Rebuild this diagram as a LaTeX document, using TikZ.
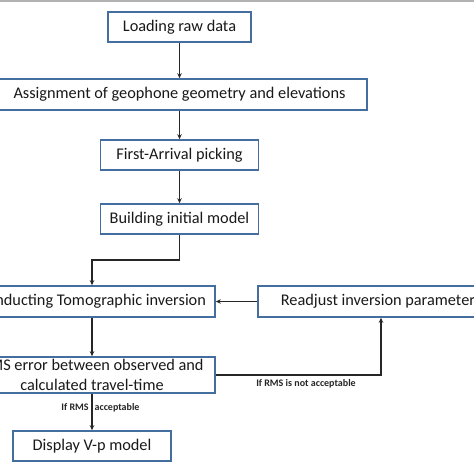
\documentclass[tikz,border=0pt]{standalone}
\usepackage{fontspec}
\setmainfont{Carlito}
\usetikzlibrary{arrows.meta}
\definecolor{boxblue}{RGB}{68,110,160}
\definecolor{topgray}{RGB}{178,178,178}
\tikzset{
  stepbox/.style={draw=boxblue, line width=1.6bp, fill=white, rectangle, inner sep=0pt,
    font=\fontsize{16.3bp}{19.5bp}\selectfont, text=black!90, align=center},
  conn/.style={draw=black!85, line width=1.2bp, -{Stealth[length=5bp,width=4.5bp]}},
  lbl/.style={font=\fontsize{10bp}{12bp}\selectfont\bfseries, text=black!85, inner sep=0pt}
}
\begin{document}
\begin{tikzpicture}[x=1bp,y=-1bp]
\useasboundingbox (0,0) rectangle (474,474);
\clip (0,0) rectangle (474,474);
\fill[white] (0,0) rectangle (474,474);
\fill[topgray] (0,0) rectangle (474,2.5);

\node[stepbox, minimum width=143bp, minimum height=30bp] (load) at (179.5,27) {Loading raw data};
\node[stepbox, minimum width=375bp, minimum height=31bp] (assign) at (179.5,94.5) {Assignment of geophone geometry and elevations};
\node[stepbox, minimum width=158bp, minimum height=30bp] (pick) at (179.5,155) {First-Arrival picking};
\node[stepbox, minimum width=158bp, minimum height=30bp] (build) at (179.5,219) {Building initial model};
\node[stepbox, minimum width=246bp, minimum height=31bp] (inv) at (92,301.5) {Conducting Tomographic inversion};
\node[stepbox, minimum width=246bp, minimum height=31bp] (readj) at (381,301.5) {Readjust inversion parameters};
\node[stepbox, minimum width=246bp, minimum height=36bp] (rms) at (92,375) {RMS error between observed and\\calculated travel-time};
\node[stepbox, minimum width=158bp, minimum height=30bp] (disp) at (92,446) {Display V-p model};

\coordinate (b1) at (179.5,260);
\coordinate (b2) at (92,260);
\coordinate (r1) at (381,375);

\draw[conn] (load.south) -- (assign.north);
\draw[conn] (assign.south -| pick.north) -- (pick.north);
\draw[conn] (pick.south) -- (build.north);
\draw[conn] (build.south) -- (b1) -- (b2) -- (inv.north);
\draw[conn] (readj.west) -- (inv.east);
\draw[conn] (inv.south) -- (rms.north);
\draw[conn] (rms.east) -- (r1) -- (readj.south);
\draw[conn] (rms.south) -- (disp.north);

\node[lbl] (l1) at (100.5,408) {If RMS\hspace{6bp}acceptable};
\node[lbl] (l2) at (306,384) {If RMS is not acceptable};
\end{tikzpicture}
\end{document}
